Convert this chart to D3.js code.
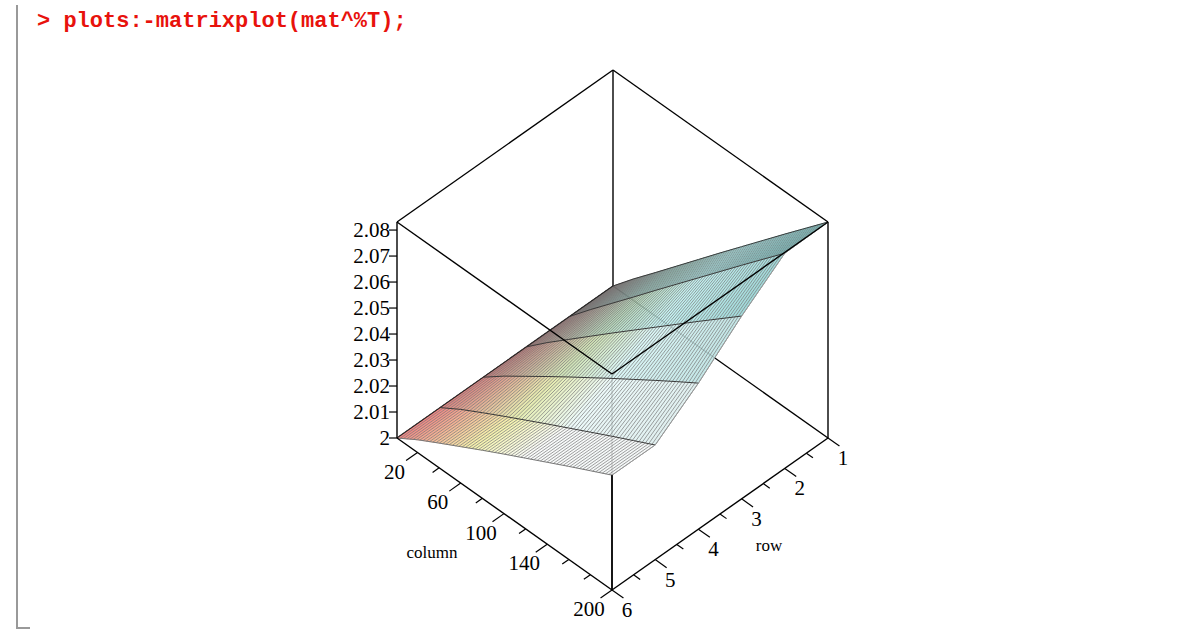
<!DOCTYPE html>
<html><head><meta charset="utf-8">
<script src="https://cdn.jsdelivr.net/npm/d3@7"></script>
<style>body{margin:0;background:#fff}svg{display:block}</style>
</head><body>
<svg id="chart" width="1200" height="642"></svg>
<script>
// matrix columns sampled and heights per row (rows 1..6)
const columns = [1, 20, 40, 60, 80, 100, 120, 140, 160, 180, 200];
const rows = [1, 2, 3, 4, 5, 6];
const row1 = [2, 2.0083, 2.0166, 2.0250, 2.0334, 2.0418, 2.0501, 2.0584, 2.0667, 2.0749, 2.0831];
const row2 = [2, 2.0082, 2.0165, 2.0248, 2.0332, 2.0415, 2.0498, 2.0581, 2.0664, 2.0746, 2.0828];
const row3 = [2, 2.0072, 2.0143, 2.0214, 2.0285, 2.0355, 2.0425, 2.0495, 2.0565, 2.0634, 2.0703];
const row4 = [2, 2.0060, 2.0118, 2.0176, 2.0233, 2.0289, 2.0345, 2.0400, 2.0455, 2.0509, 2.0562];
const row5 = [2, 2.0049, 2.0095, 2.0140, 2.0184, 2.0228, 2.0271, 2.0314, 2.0357, 2.0399, 2.0441];
const row6 = [2, 2.0049, 2.0095, 2.0140, 2.0185, 2.0229, 2.0272, 2.0315, 2.0358, 2.0400, 2.0442];
const heights = [row1, row2, row3, row4, row5, row6];
const zTicks = [2, 2.01, 2.02, 2.03, 2.04, 2.05, 2.06, 2.07, 2.08];
const colTicks = [20, 40, 60, 80, 100, 120, 140, 160, 180, 200];
const colLabels = [20, 60, 100, 140, 200];

const svg = d3.select('#chart');
const font = '"Liberation Serif", "Times New Roman", serif';

// projection scales
const u = d3.scaleLinear().domain([1, 200]).range([0, 1]);
const v = d3.scaleLinear().domain([6, 1]).range([0, 1]);
const zs = d3.scaleLinear().domain([2, 2.0831]).range([0, 216]);
const ox = 397, oy = 438;
const P = (c, r, z) => [ox + 215 * u(c) + 216 * v(r), oy + 152 * u(c) - 152 * v(r) - zs(z)];
const zTop = 2.0831;

// header
svg.append('text').attr('x', 37).attr('y', 27)
  .attr('font-family', '"Liberation Mono", "DejaVu Sans Mono", monospace')
  .attr('font-weight', 'bold').attr('font-size', 22).attr('fill', '#e8120c')
  .text('> plots:-matrixplot(mat^%T);');
svg.append('path').attr('d', 'M17,5V628H30').attr('fill', 'none').attr('stroke', '#999').attr('stroke-width', 2);

const line = d3.line();
const edge = (a, b, w = 1.4) => svg.append('path').attr('d', line([a, b]))
  .attr('stroke', '#000').attr('stroke-width', w).attr('fill', 'none');

const cmin = 1, cmax = 200;
// back edges
edge(P(cmin, 6, 2), P(cmin, 1, 2));
edge(P(cmax, 1, 2), P(cmin, 1, 2));
edge(P(cmin, 1, 2), P(cmin, 1, zTop));
// front vertical sits behind the translucent surface
edge(P(cmax, 6, zTop), P(cmax, 6, 2));

// surface colours
const colRow6 = d3.scaleLinear().domain([0, 0.35, 0.6, 1]).range(['#f47070', '#f8f4a0', '#fbfbfb', '#f8f8f8']);
const colRow1 = d3.scaleLinear().domain([0, 0.3, 0.6, 1]).range(['#4a4a4a', '#70b4b4', '#90eaea', '#4cbcbc']);
const colorAt = (uu, vv) => d3.interpolateRgb(colRow6(uu), colRow1(uu))(Math.pow(vv, 1.5));

const zAt = (ri, c) => d3.scaleLinear().domain(columns).range(heights[ri])(c);

const surf = svg.append('g');
for (let ri = 0; ri < rows.length - 1; ri++) {
  for (let ci = 0; ci < columns.length - 1; ci++) {
    const steps = 4;
    for (let k = 0; k < steps; k++) {
      const c0 = columns[ci] + (columns[ci + 1] - columns[ci]) * k / steps;
      const c1 = columns[ci] + (columns[ci + 1] - columns[ci]) * (k + 1) / steps;
      const rA = rows[ri], rB = rows[ri + 1];
      const quad = [P(c0, rA, zAt(ri, c0)), P(c1, rA, zAt(ri, c1)), P(c1, rB, zAt(ri + 1, c1)), P(c0, rB, zAt(ri + 1, c0))];
      const col = colorAt(u((c0 + c1) / 2), v((rA + rB) / 2));
      surf.append('path').attr('d', line(quad) + 'Z')
        .attr('fill', col).attr('stroke', col).attr('stroke-width', 0.6).attr('opacity', 0.85);
    }
  }
}
// hatch (column) lines
const nHatch = 66;
for (let k = 0; k <= nHatch; k++) {
  const c = 1 + 199 * k / nHatch;
  surf.append('path').attr('d', line(rows.map((r, ri) => P(c, r, zAt(ri, c)))))
    .attr('fill', 'none').attr('stroke', '#7a7a7a').attr('stroke-width', 0.9).attr('opacity', 0.8);
}
// row lines
rows.forEach((r, ri) => {
  surf.append('path').attr('d', line(columns.map((c, ci) => P(c, r, heights[ri][ci]))))
    .attr('fill', 'none').attr('stroke', ri === 5 ? '#777' : '#3a3a3a').attr('stroke-width', 1);
});
surf.append('path').attr('d', line(rows.map((r, ri) => P(cmin, r, heights[ri][0]))))
  .attr('fill', 'none').attr('stroke', '#222').attr('stroke-width', 1);
surf.append('path').attr('d', line(rows.map((r, ri) => P(cmax, r, heights[ri][10]))))
  .attr('fill', 'none').attr('stroke', '#999').attr('stroke-width', 1);

// front vertical below the surface, in black
edge(P(cmax, 6, heights[5][10]), P(cmax, 6, 2));

// top and front edges
edge(P(cmin, 6, zTop), P(cmin, 1, zTop));
edge(P(cmin, 1, zTop), P(cmax, 1, zTop));
edge(P(cmin, 6, zTop), P(cmax, 6, zTop));
edge(P(cmax, 6, zTop), P(cmax, 1, zTop));
edge(P(cmin, 6, 2), P(cmin, 6, zTop));
edge(P(cmax, 1, 2), P(cmax, 1, zTop));
edge(P(cmin, 6, 2), P(cmax, 6, 2));
edge(P(cmax, 6, 2), P(cmax, 1, 2));

// z axis ticks
zTicks.forEach(t => {
  const [x, y] = P(cmin, 6, t);
  edge([x - 8, y], [x, y], 1.2);
  svg.append('text').attr('x', x - 7).attr('y', y + 7).attr('text-anchor', 'end')
    .attr('font-family', font).attr('font-size', 21).text(d3.format('')(t));
});
// column ticks (pointing away from the row axis)
const dir = [-216 / 264, 152 / 264];
colTicks.forEach(t => {
  const [x, y] = P(t, 6, 2);
  const L = colLabels.includes(t) ? 14 : 8;
  edge([x, y], [x + dir[0] * L, y + dir[1] * L], 1.2);
  if (colLabels.includes(t)) {
    svg.append('text').attr('x', x - 23).attr('y', y + 26).attr('text-anchor', 'middle')
      .attr('font-family', font).attr('font-size', 21).text(t);
  }
});
// row ticks
const rdir = [215 / 263, 152 / 263];
d3.range(1, 6.01, 0.5).forEach(t => {
  const [x, y] = P(cmax, t, 2);
  const major = Number.isInteger(t);
  const L = major ? 14 : 8;
  edge([x, y], [x + rdir[0] * L, y + rdir[1] * L], 1.2);
  if (major) {
    svg.append('text').attr('x', x + 15).attr('y', y + 27).attr('text-anchor', 'middle')
      .attr('font-family', font).attr('font-size', 21).text(t);
  }
});
svg.append('text').attr('x', 432).attr('y', 558).attr('text-anchor', 'middle')
  .attr('font-family', font).attr('font-size', 17).text('column');
svg.append('text').attr('x', 769).attr('y', 551).attr('text-anchor', 'middle')
  .attr('font-family', font).attr('font-size', 17).text('row');
</script>
</body></html>
